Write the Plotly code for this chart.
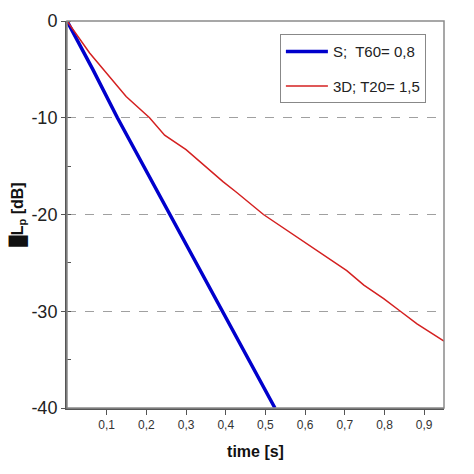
import plotly.graph_objects as go

# decay curves
t_s = [0.0, 0.065, 0.127, 0.193, 0.259, 0.326, 0.392, 0.458, 0.524]
lp_s = [0, -5, -10, -15, -20, -25, -30, -35, -40]

t_3d = [0.0, 0.057, 0.149, 0.208, 0.246, 0.300, 0.393, 0.427, 0.495,
        0.579, 0.705, 0.748, 0.798, 0.840, 0.882, 0.95]
lp_3d = [0, -3.3, -7.8, -10.0, -11.8, -13.3, -16.6, -17.7, -20.0,
         -22.3, -25.8, -27.3, -28.7, -30.0, -31.3, -33.1]

x_ticks = [0.1, 0.2, 0.3, 0.4, 0.5, 0.6, 0.7, 0.8, 0.9]
x_labels = ["0,1", "0,2", "0,3", "0,4", "0,5", "0,6", "0,7", "0,8", "0,9"]
y_ticks = [0, -10, -20, -30, -40]
y_labels = ["0", "-10", "-20", "-30", "-40"]

fig = go.Figure()
fig.add_trace(go.Scatter(x=t_s, y=lp_s, mode="lines", name="S;  T60= 0,8",
                         legendgroup="a",
                         line=dict(color="#0000cc", width=3.5)))
fig.add_trace(go.Scatter(x=t_3d, y=lp_3d, mode="lines", name="3D; T20= 1,5",
                         legendgroup="b",
                         line=dict(color="#d42020", width=1.5)))

# page body has an 8px margin, so margins are shifted to compensate
fig.update_layout(
    width=474, height=474,
    margin=dict(l=59, r=38, t=13, b=74),
    paper_bgcolor="white", plot_bgcolor="white",
    font=dict(family="Liberation Sans, Arial, sans-serif", color="#222"),
    showlegend=True,
    legend=dict(x=0.952, y=0.966, xanchor="right", yanchor="top",
                bordercolor="#888", borderwidth=1, bgcolor="white",
                itemwidth=42,
                font=dict(size=15, color="#222"), tracegroupgap=12),
    shapes=[dict(type="rect", xref="paper", yref="paper", x0=0, y0=0, x1=1, y1=1,
                 line=dict(color="#8a8a8a", width=1.5), layer="above")],
)

fig.update_xaxes(
    range=[0, 0.95], tickvals=x_ticks, ticktext=x_labels, automargin=False,
    ticks="outside", ticklen=5, tickcolor="#555",
    tickfont=dict(size=12, color="#333"),
    showline=True, linecolor="#555", linewidth=2,
    showgrid=False, zeroline=False,
    title=dict(text="<b>time [s]</b>", font=dict(size=16, color="#111"), standoff=14),
)
fig.update_yaxes(
    range=[-40, 0], tickvals=y_ticks, ticktext=y_labels, automargin=False,
    ticks="outside", ticklen=4, tickcolor="#555",
    tickfont=dict(size=18, color="#222"),
    minor=dict(ticks="inside", dtick=5, ticklen=4, tickcolor="#555", showgrid=False),
    showline=True, linecolor="#555", linewidth=2,
    showgrid=True, gridcolor="#a0a0a0", griddash="dash", gridwidth=1,
    zeroline=False,
    title=dict(text="<b>█L<sub>p</sub> [dB]</b>", font=dict(size=16, color="#111"),
               standoff=14),
)

fig.write_html("out.html")
